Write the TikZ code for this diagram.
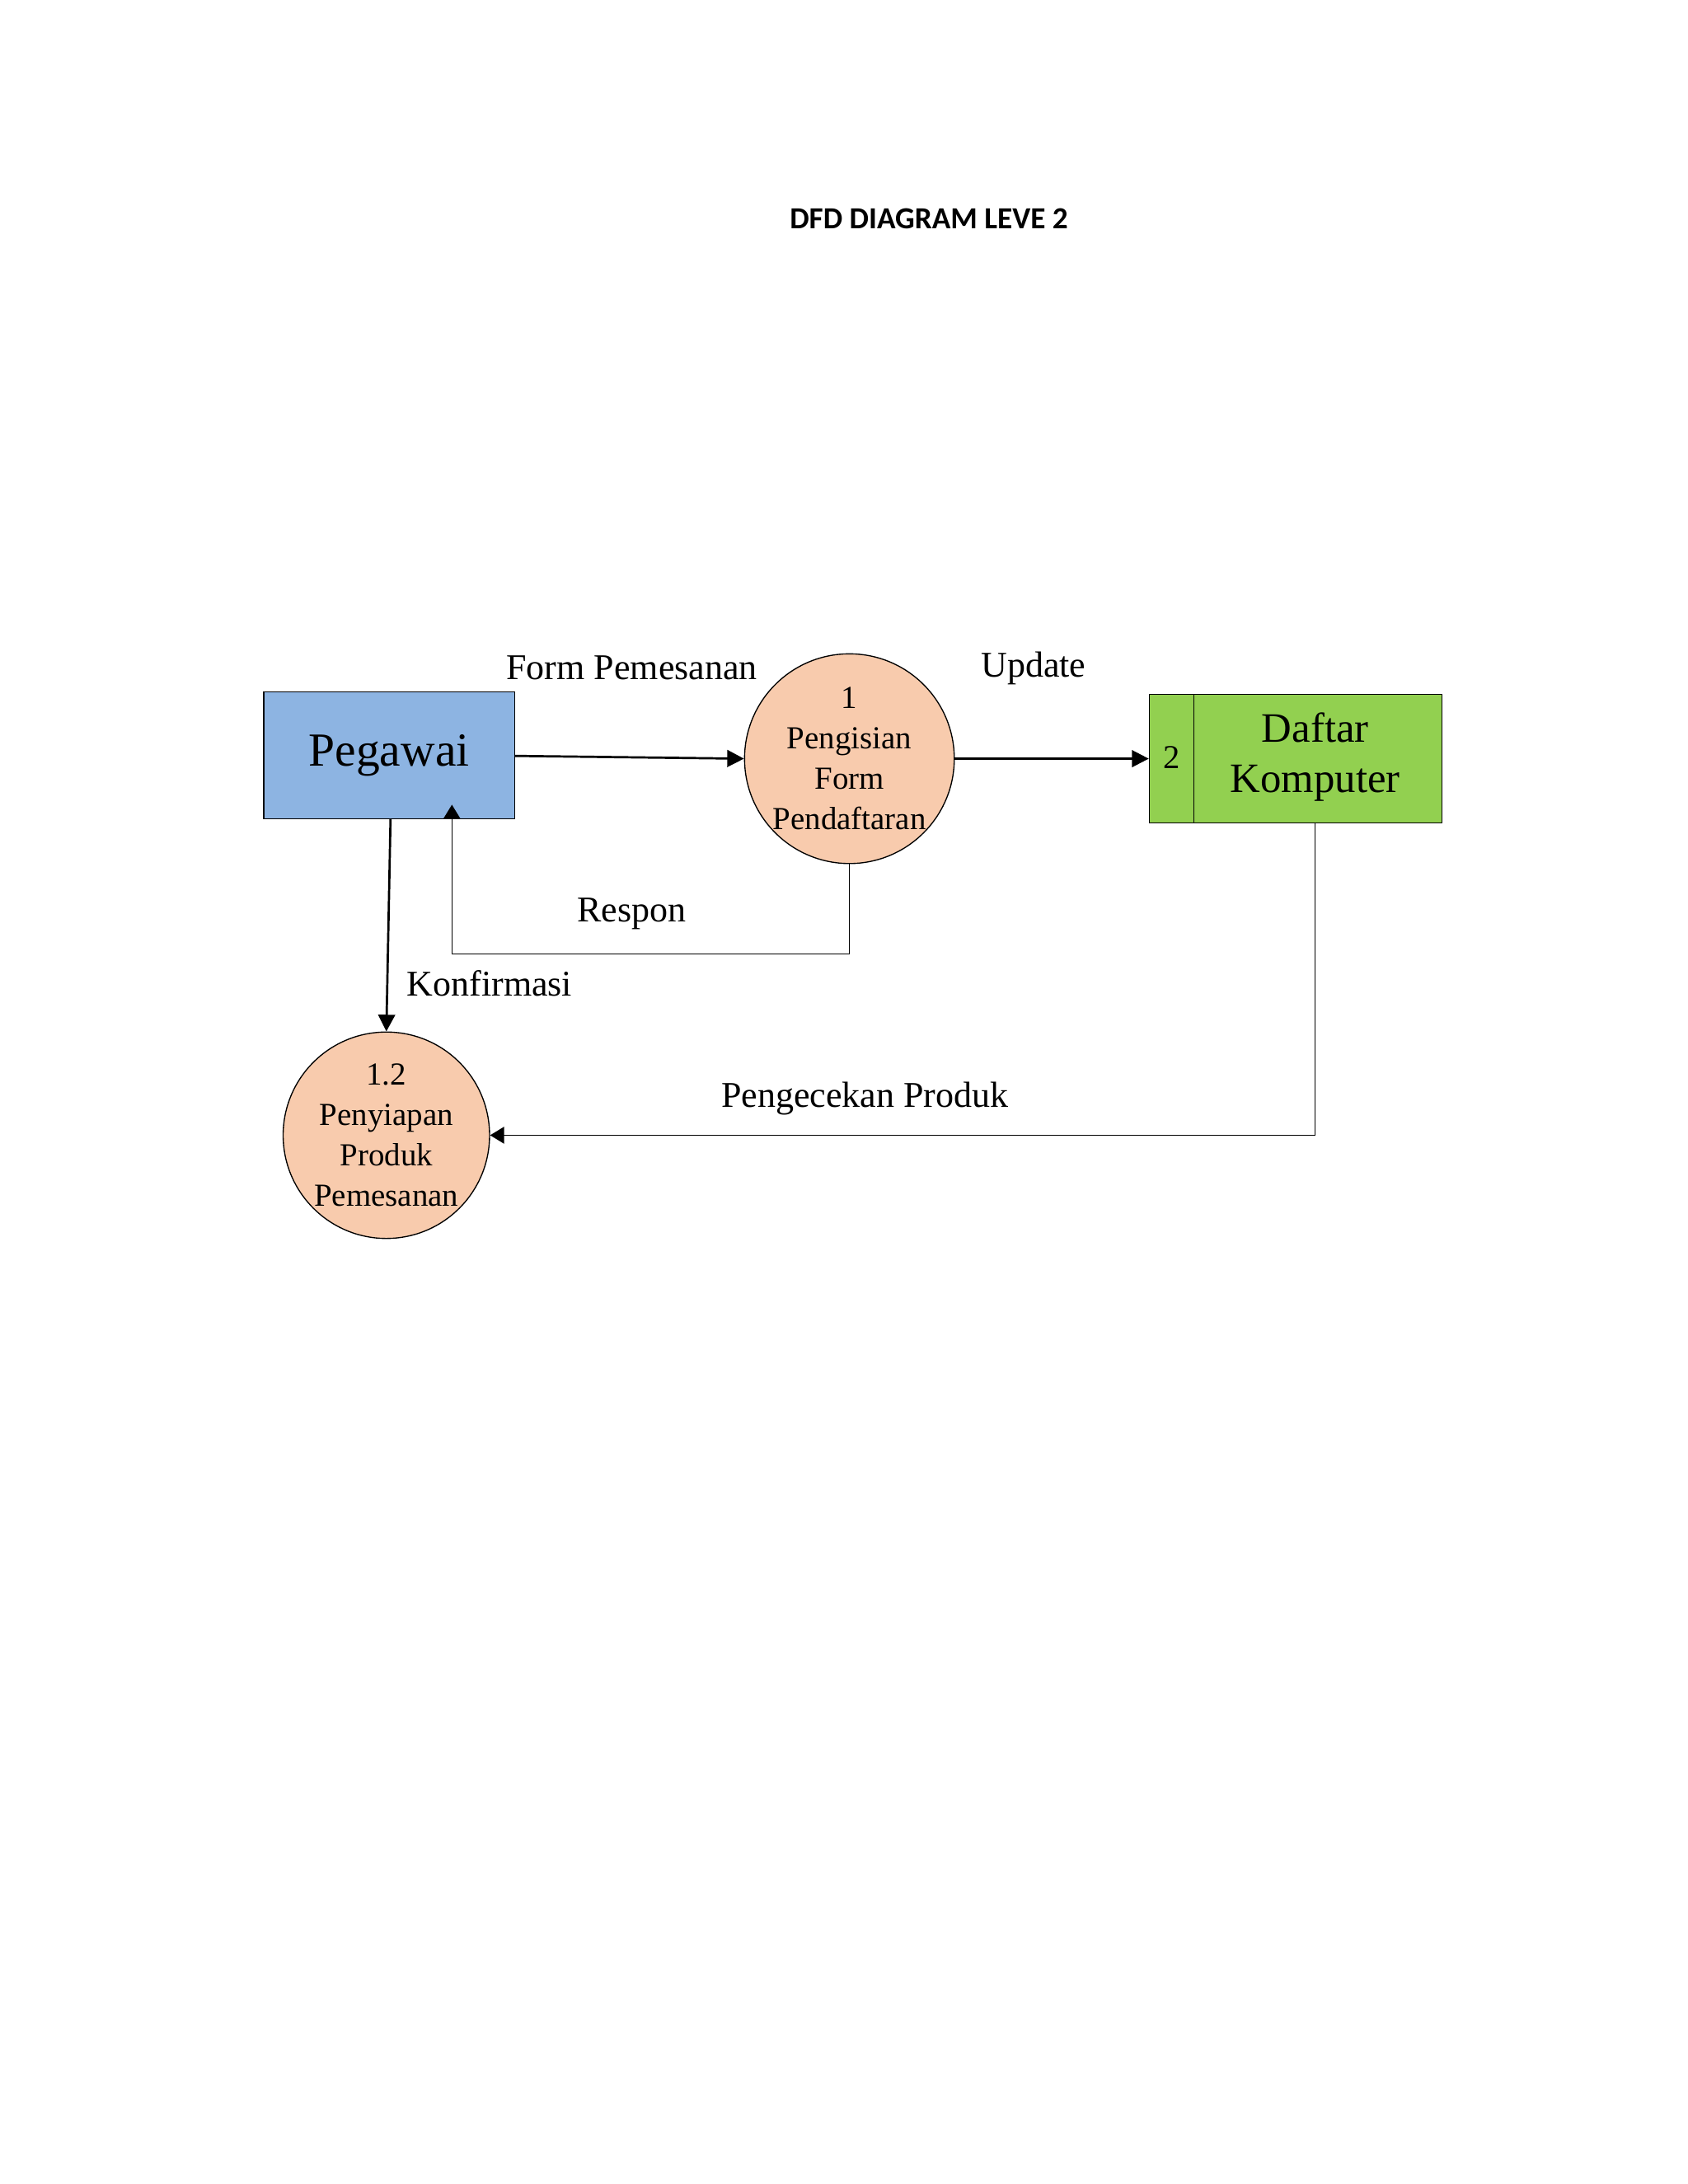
\documentclass[tikz,border=0pt]{standalone}
\usepackage{fontspec}
\setmainfont{Liberation Serif}
\newfontfamily\titlefont{Carlito}
\usetikzlibrary{arrows.meta}
\definecolor{pblue}{RGB}{141,180,226}
\definecolor{ppeach}{RGB}{248,203,173}
\definecolor{pgreen}{RGB}{146,208,80}
\begin{document}
\begin{tikzpicture}[x=0.5pt,y=-0.5pt,
  proc/.style={circle,draw,fill=ppeach,minimum size=74pt,inner sep=0pt,align=center,font=\fontsize{11.5}{14.5}\selectfont},
  flow/.style={draw,-{Triangle[length=6pt,width=6pt]}},
  flow2/.style={draw,-{Triangle[length=5pt,width=6pt]}},
  lbl/.style={font=\fontsize{13}{15}\selectfont}]
\useasboundingbox (0,0) rectangle (1210,1566);
\node[font=\titlefont\bfseries\fontsize{11}{13}\selectfont] (title) at (666,157) {DFD DIAGRAM LEVE 2};
\node[draw,fill=pblue,minimum width=90pt,minimum height=45.5pt,inner sep=0pt,font=\fontsize{17}{20}\selectfont] (peg) at (279,541.5) {Pegawai};
\node[proc] (p1) at (609,544) {1\\Pengisian\\Form\\Pendaftaran};
\node[proc] (p12) at (277,814) {1.2\\Penyiapan\\Produk\\Pemesanan};
\node[draw,fill=pgreen,minimum width=105pt,minimum height=46pt,inner sep=0pt] (ds) at (929,544) {};
\draw (856,498) -- (856,590);
\node[font=\fontsize{12}{14}\selectfont] (dsn) at (840,543) {2};
\node[align=center,font=\fontsize{15}{18}\selectfont] (dst) at (943,543) {Daftar\\Komputer};
\coordinate (pr) at (369,542);
\draw[flow,thick] (pr) -- (p1.west);
\draw[flow,thick] (p1.east) -- (ds.west);
\coordinate (r1) at (609,684); \coordinate (r2) at (324,684); \coordinate (r3) at (324,577);
\draw[flow2] (p1.south) -- (r1) -- (r2) -- (r3);
\coordinate (k1) at (280,587);
\draw[flow,thick] (k1) -- (p12.north);
\coordinate (d1) at (943,590); \coordinate (d2) at (943,814);
\draw[flow2] (d1) -- (d2) -- (p12.east);
\node[lbl] (l1) at (453,479) {Form Pemesanan};
\node[lbl] (l2) at (741,479) {Update};
\node[lbl] (l3) at (453,655) {Respon};
\node[lbl] (l4) at (351,705) {Konfirmasi};
\node[lbl] (l5) at (620,788) {Pengecekan Produk};
\end{tikzpicture}
\end{document}
